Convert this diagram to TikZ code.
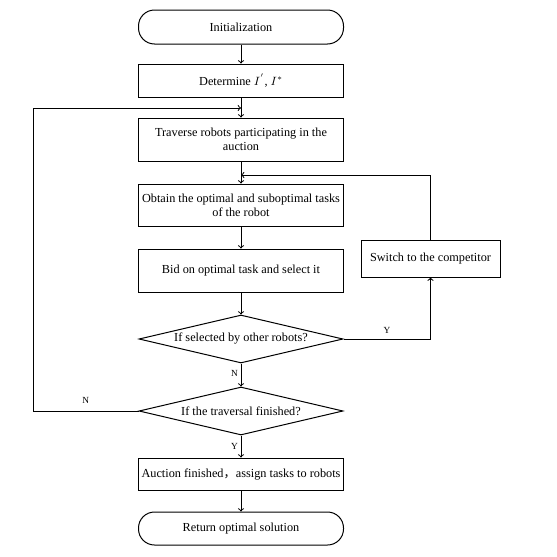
\documentclass[tikz,border=0pt]{standalone}
\usepackage{fontspec}
\setmainfont{Liberation Serif}
\newfontfamily\cjk{Noto Sans CJK SC}
\usetikzlibrary{shapes.geometric}

\tikzset{every picture/.style={line width=0.75pt}}
\tikzset{
  procbox/.style={draw, minimum width=153.75pt, inner sep=2pt, align=center,
    font=\fontsize{9.2}{10.5}\selectfont},
  termbox/.style={procbox, rounded corners=12pt},
  decbox/.style={draw, diamond, aspect=4.25, minimum width=153pt, minimum height=36pt,
    inner sep=0pt, font=\fontsize{9.2}{10.5}\selectfont},
  yn/.style={font=\fontsize{7}{8}\selectfont, inner sep=2pt},
  >=to
}

\begin{document}
\begin{tikzpicture}[x=0.75pt,y=0.75pt,yscale=-1,xscale=1]
\useasboundingbox (0,0) rectangle (557,557);

% Terminals
\node [termbox, minimum height=25.5pt] (init) at (241,27) {Initialization};
\node [termbox, minimum height=24.75pt] (ret) at (241,528.5) {Return optimal solution};

% Process boxes
\node [procbox, minimum height=24.75pt] (det) at (241,80.5) {Determine $I^{'}$, $I^{*}$};
\node [procbox, minimum height=32.25pt] (trav) at (241,139.5) {Traverse robots participating in the\\auction};
\node [procbox, minimum height=31.5pt] (obt) at (241,205) {Obtain the optimal and suboptimal tasks\\of the robot};
\node [procbox, minimum height=32.25pt] (bid) at (241,270.5) {Bid on optimal task and select it};
\node [procbox, minimum height=24pt] (auc) at (241,474) {Auction finished{\cjk ，}assign tasks to robots};
\node [procbox, minimum width=104.25pt, minimum height=27.75pt] (sw) at (430.5,258.5) {Switch to the competitor};

% Decisions
\node [decbox] (sel) at (241,339) {If selected by other robots?};
\node [decbox] (fin) at (241,411) {If the traversal finished?};

% Joins of the loops
\coordinate (jt) at (241,108);
\coordinate (jo) at (241,175);
\coordinate (lt) at (33,108);

% Straight Lines
\draw [->] (init) -- (det);
\draw [->] (det) -- (trav);
\draw [->] (trav) -- (obt);
\draw [->] (obt) -- (bid);
\draw [->] (bid) -- (sel);
\draw [->] (sel) -- node [yn, left, pos=0.45] {N} (fin);
\draw [->] (fin) -- node [yn, left] {Y} (auc);
\draw [->] (auc) -- (ret);

% Loop back to the obtain step
\draw [->] (sel.east) -| node [yn, above, pos=0.25, yshift=2pt] {Y} (sw.south);
\draw [->] (sw.north) |- (jo);

% Loop back to the traverse step
\draw [->] (fin.west) -| node [yn, above, pos=0.25, yshift=3pt] {N} (lt) -- (jt);

\end{tikzpicture}
\end{document}
